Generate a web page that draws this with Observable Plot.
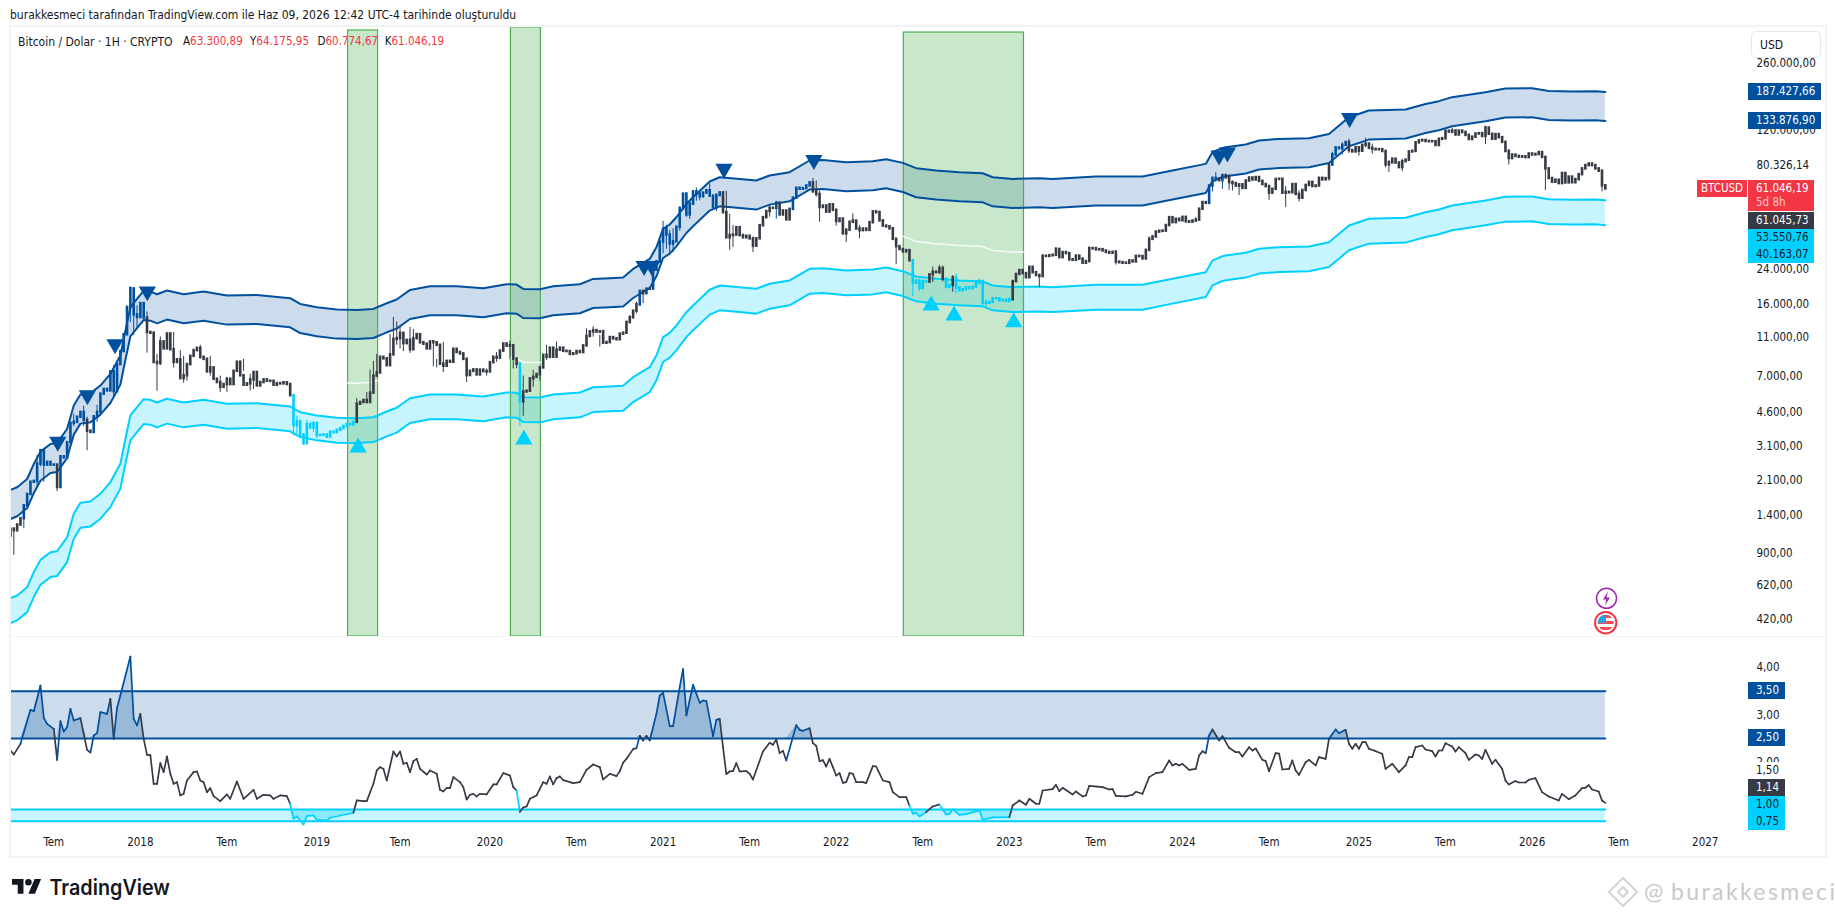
<!DOCTYPE html>
<html><head><meta charset="utf-8">
<script src="https://cdn.jsdelivr.net/npm/d3@7"></script>
<script src="https://cdn.jsdelivr.net/npm/@observablehq/plot@0.6"></script>
<style>
html,body{margin:0;padding:0;background:#fff;overflow:hidden}
#wrap{position:relative;width:1835px;height:917px;font-family:"DejaVu Sans Condensed","DejaVu Sans",sans-serif;font-stretch:condensed;color:#131722;font-size:12px}
#wrap>div.plot{position:absolute;left:0}
.t{position:absolute;white-space:nowrap;line-height:1}
.tag{position:absolute;left:1748px;height:17px;line-height:17px;padding-left:8px;box-sizing:border-box;white-space:nowrap;font-size:11.5px}
.frame{position:absolute;background:#f2f3f5}
svg{overflow:visible}
</style></head><body><div id="wrap"></div>
<script>
// ---- weekly closes, one list per calendar block (week 0 = 2017-04-03)
const firstOpen = 1100;
const close2017 = [1190,1170,1250,1345,1560,1780,2050,2070,2530,2950,2500,2580,2500,2500,1930,2750,2720,3240,4050,4100,4350,4600,4200,3700,3650,4370,4600,5680,6000,5900,7350,5850,8000,9300,11300,15500,19200,14200,13800];
const close2018 = [16200,13700,11600,11500,8200,8100,10400,9600,11400,9500,8200,8450,6800,7020,8000,8800,9400,9650,8700,8500,7350,7700,6750,6500,6150,6350,6750,6350,7400,8220,7030,6300,6400,6700,7300,6250,6500,6700,6600,6590,6300,6420,6400,6480,6350,5580,3950,4130,3530,3200,4000,3840];
const close2019 = [4050,3520,3530,3540,3460,3660,3640,3740,3810,3910,4000,3980,4100,5060,5160,5280,5160,5750,7000,7260,8700,8550,7900,8950,10700,10800,11480,10200,10580,9500,10800,11300,10300,10130,9600,10400,10300,10000,8050,7850,8300,8220,9550,9200,9050,8500,7050,7400,7520,7100,7500,7380];
const close2020 = [7350,8180,8700,8620,9350,10150,9900,9950,8530,8040,5200,5830,5880,6780,6900,7130,7700,8900,8700,9670,8720,9450,9670,9330,9300,9000,9070,9300,9200,9930,11080,11680,11850,11650,11700,10250,10320,10930,10770,10670,11380,11500,13030,13750,14840,15960,18650,18180,19150,19170,23850,26250];
const close2021 = [33000,38300,35800,32300,33100,39200,48600,57500,45200,51200,59000,57400,55800,58200,59800,56200,49100,56600,58300,46400,34700,35600,35800,39000,35600,34700,35300,34250,31500,34300,39900,43800,47000,48800,48800,51800,45200,47300,42700,48200,54900,61500,60900,61300,63200,65500,59000,57300,49300,50100,46700,50800,47700];
const close2022 = [41900,43100,36300,37900,41500,42100,38400,37700,38400,37800,41300,46800,46400,42200,39700,39400,38500,34100,31300,30300,29500,29900,26600,20550,21000,19300,20850,20800,22600,23300,23200,24300,21500,19550,19990,21800,19400,18800,19050,19440,19260,19570,20630,20920,16330,16280,16430,17100,17130,16740,16840,16620];
const close2023 = [16950,20880,22700,23740,22940,21860,24640,23160,22430,22160,28000,27970,28190,28330,30320,27590,29230,28900,26920,26750,28070,27100,25850,26340,30540,30620,30170,30240,29790,29280,29050,29300,26190,26020,25870,25830,26530,26250,27980,27930,27160,29990,34080,35040,37060,37390,37480,39970,43790,41370,43010,42270];
const close2024 = [43950,41730,41580,42120,42580,48290,52130,51730,63100,68950,68390,67200,71280,69360,65660,64940,63100,64000,61480,66940,69290,67750,69650,66640,64250,62770,58200,60800,68160,68250,58110,58710,58450,64220,57300,54860,59990,63570,65880,62820,63190,69000,67850,68770,80440,90600,97900,97280,101200,104500,95180,93750];
const close2025 = [98300,94500,101100,102600,97700,96500,96100,96200,94200,80700,82600,86100,82400,78200,83700,85200,93700,94300,104100,106500,107000,105700,105600,105500,101000,108400,109200,119000,117900,119400,114000,119300,117400,113500,108200,111100,115300,115700,112100,123500,115000,108600,114500,110500,104700,94200,86800,90400,89000,88200,88500,87800,91500];
const close2026 = [90500,91000,93000,88000,77000,68900,66000,67500,65000,73000,65500,70000,65600,68000,72000,77000,80000,81500,80000,77000,75000,63300,61046];
const closes = [...close2017,...close2018,...close2019,...close2020,...close2021,...close2022,...close2023,...close2024,...close2025,...close2026];

// ---- notable wicks
const wickWeek = [1,4,8,9,10,14,19,22,23,26,31,36,37,38,41,44,45,49,51,52,53,57,60,63,65,70,72,73,85,86,88,89,91,92,104,107,108,109,110,114,115,116,117,118,120,121,127,128,129,130,137,143,146,150,151,152,153,154,157,159,161,164,173,175,177,186,188,190,195,196,197,198,199,201,203,204,206,207,210,212,215,216,217,223,228,230,241,242,243,248,251,253,255,261,266,271,273,277,279,280,283,284,291,292,293,301,309,310,314,318,324,332,342,356,358,360,361,362,364,366,367,369,378,383,387,396,397,398,400,402,405,407,409,413,414,418,422,433,443,450,461,478,479];
const wickLow  = [880,1200,1950,2450,2050,1840,3900,3900,2950,4100,5500,13000,11200,12000,9130,5880,7900,7700,7800,6450,6600,8500,7000,5800,5800,7400,5900,6000,3500,3500,3150,3200,3650,3400,4100,5100,5500,6900,7000,8800,9900,10000,9600,9300,9100,10000,7800,7700,7900,7300,6500,7000,8200,8500,7600,7630,3900,4400,6150,6600,8400,8600,10500,11000,9800,12800,14400,16200,28000,28800,30400,28800,29200,37400,44000,43000,53000,53200,55400,47000,43800,30000,31100,29300,44000,43000,62300,55600,41500,39700,32900,41700,34300,42000,25400,17600,18600,20700,22700,20800,18500,18200,20000,15600,15500,17300,19500,24000,29800,26400,26400,25300,29900,41500,47700,50900,59000,66000,60700,60000,59600,56500,53500,49300,52500,66800,80200,89400,90500,92200,89200,98300,91200,78000,74000,74500,93000,115700,102000,80600,59900,59000,60774];
const wickHigh = [1210,1570,2800,3000,2980,2420,4500,4950,4350,5000,7900,19700,17500,15800,14700,9000,11000,11600,9400,8800,7700,10000,8800,7000,6900,8500,7150,6700,5600,4400,3600,4200,4100,4050,5400,5800,7500,8300,9000,11300,13800,13100,12300,11100,12300,12000,10400,8500,8800,10350,8000,7600,9200,10500,9150,8000,8000,7000,7500,7800,10000,10400,12100,12400,11200,14100,16500,18900,34800,41950,40100,37800,38500,49700,58300,52600,61800,60000,64800,57500,59500,45500,40000,35000,50600,52900,69000,67000,59500,47500,38000,45800,40000,47200,34200,26800,21500,24700,25200,25000,22400,22800,21500,21000,17000,21200,22600,28500,31000,28500,31400,30000,35100,43800,52800,64000,70000,73700,72000,72000,67000,64500,63500,62800,59800,81500,93300,99800,104000,108300,97200,109800,102500,95000,85000,86000,105000,123200,126200,96000,79000,68000,64176];

// ---- base line of the band indicator (the 1,00 level), read at irregular weeks
const baseWeek = [0,2,5,7,9,12,14,17,19,21,24,27,30,33,34,36,38,40,42,44,47,52,58,65,74,84,87,92,98,104,109,113,116,120,126,134,142,149,152,154,159,163,171,175,180,184,187,192,194,196,198,200,203,205,210,213,219,224,228,234,240,244,251,259,263,268,272,278,285,292,295,301,309,313,326,340,349,359,361,364,365,371,375,381,390,396,402,408,419,425,429,433,443,449,457,462,469,476,479];
const baseValue = [536,553,608,724,835,912,923,1085,1423,1616,1640,1793,2051,2537,3075,4438,4886,5359,5320,5158,5385,5158,5320,5081,5117,4925,4611,4438,4321,4300,4351,4649,4852,5422,5660,5660,5531,5792,5770,5484,5465,5660,5792,6157,6207,6258,6913,7761,8886,10985,11555,12575,14667,15855,19014,19975,19597,19227,20370,21168,24240,24400,23760,24030,24620,23580,22180,21590,21168,20920,19975,19597,19740,19597,20140,20140,21590,23310,26660,28050,28270,29180,30570,31130,31380,32960,40020,43230,43750,46660,48170,50450,53430,55770,55950,54250,53870,54100,53551];
const bandMultipliers = {cyanLow:0.75, cyanHigh:1, white:1.5, blueLow:2.5, blueHigh:3.5};

// ---- oscillator (price / base), read at the visible turning points
const oscWeek = [0,1,3,6,7,9,10,11,13,14,15,16,17,18,19,21,23,24,25,26,27,29,30,31,32,33,36,37,38,39,40,41,42,43,44,45,46,47,48,49,50,51,52,53,55,56,57,58,59,60,61,63,65,66,68,70,73,74,76,78,79,81,83,84,85,86,88,89,91,92,95,96,103,104,106,107,109,110,111,112,113,115,116,117,118,119,120,121,122,123,125,126,128,129,130,131,132,133,135,136,137,138,139,140,141,143,145,146,148,150,151,152,153,154,155,156,158,160,161,162,163,164,165,166,169,171,173,175,177,178,180,182,183,184,185,187,188,189,190,191,192,194,195,196,198,199,201,202,203,205,207,208,209,211,212,213,214,215,216,217,218,219,221,222,223,226,228,229,230,231,232,233,236,237,238,240,241,242,243,244,245,246,247,248,249,250,251,252,253,254,256,257,259,260,262,264,265,267,269,270,271,272,273,275,277,279,281,282,283,285,287,290,291,292,295,300,301,303,305,306,308,309,310,313,314,315,316,319,320,322,323,324,328,330,331,332,335,337,338,340,342,344,346,348,349,350,351,352,354,356,357,358,359,360,361,363,364,366,368,369,370,372,373,374,376,377,378,380,381,382,384,385,386,387,389,390,392,393,395,396,398,399,401,402,403,404,405,406,407,408,410,412,413,415,417,419,420,421,422,424,425,427,428,429,430,431,433,434,435,437,438,440,441,442,443,445,446,448,449,450,452,453,455,456,458,460,462,465,466,468,470,472,473,474,475,477,478,479];
const oscValue = [2.246,2.162,2.387,3.106,3.077,3.62,2.937,2.81,2.704,2.049,2.866,2.648,2.739,3.127,2.88,2.93,2.26,2.204,2.563,2.613,3.056,3.021,3.338,2.493,3.148,3.408,4.232,2.915,2.775,3.021,2.493,2.155,2.148,1.542,1.542,1.979,1.789,2.12,1.754,1.542,1.577,1.296,1.331,1.613,1.789,1.803,1.613,1.577,1.366,1.451,1.282,1.176,1.317,1.225,1.592,1.225,1.415,1.225,1.31,1.296,1.225,1.296,1.282,1.12,.803,.852,.683,.859,.873,.782,.768,.824,.93,1.19,1.176,1.176,1.542,1.824,1.894,1.859,1.613,2.225,2.12,2.225,1.965,1.986,1.789,2.021,2.07,1.859,1.739,1.824,1.754,1.415,1.38,1.458,1.451,1.683,1.577,1.472,1.211,1.31,1.331,1.275,1.331,1.317,1.528,1.528,1.768,1.718,1.472,1.401,.95,1.042,1.063,1.225,1.296,1.577,1.542,1.697,1.528,1.662,1.697,1.62,1.556,1.577,1.838,1.951,1.894,1.634,1.754,1.704,1.81,1.986,2.07,2.275,2.296,2.556,2.458,2.556,2.458,3.021,3.408,3.465,2.761,2.761,3.585,3.965,2.986,3.634,3.254,3.303,3.289,2.549,2.894,2.915,2.317,1.746,1.803,1.81,1.979,1.803,1.81,1.754,1.634,2.225,2.408,2.366,2.479,2.19,2.239,2.035,2.782,2.683,2.662,2.718,2.401,2.345,2.021,2.042,1.908,2.07,1.894,1.718,1.768,1.563,1.577,1.768,1.754,1.577,1.577,1.556,1.915,1.908,1.613,1.577,1.366,1.261,1.261,1.084,.908,.93,.852,.944,1.063,1.106,.894,.908,1.0,.887,.901,.958,.979,.782,.831,.838,1.084,1.19,1.099,1.225,1.12,1.12,1.401,1.43,1.521,1.387,1.458,1.317,1.38,1.275,1.296,1.5,1.472,1.423,1.43,1.289,1.275,1.31,1.373,1.331,1.683,1.768,1.789,2.035,1.93,1.965,1.93,1.965,1.838,1.859,2.141,2.232,2.19,2.563,2.69,2.458,2.549,2.303,2.211,2.211,2.12,2.317,2.246,2.289,2.049,2.021,1.81,2.19,2.183,1.845,1.859,2.035,1.824,1.732,2.0,2.049,1.93,2.106,2.07,2.493,2.69,2.613,2.683,2.387,2.282,2.387,2.282,2.423,2.423,2.282,2.232,2.176,1.859,1.965,1.789,1.93,2.106,2.106,2.317,2.352,2.268,2.232,2.12,2.246,2.246,2.401,2.331,2.225,2.317,2.19,2.049,2.162,2.141,2.07,2.261,1.965,2.049,1.859,1.613,1.528,1.599,1.57,1.57,1.627,1.662,1.366,1.275,1.19,1.331,1.218,1.296,1.451,1.458,1.514,1.423,1.38,1.19,1.14];
const oscUpper = [2.5,3.5], oscLower = [0.75,1];

// ---- signal markers
const sellWeek  = [14.2,23.1,31.4,41.1,190.3,192.6,214.3,241.3,363,365.5,402.2];
const sellPrice = [3198,5484,9880,18230,24480,24480,75400,83450,87900,90960,135660];
const buyWeek   = [104.4,154.2,276.5,283.4,301.3];
const buyPrice  = [3136,3440,16230,14450,13360];

// ---- highlighted zones
const zoneStart = [101.4,150.3,268.3], zoneEnd = [110.4,159.3,304.4], zoneTop = [382000,396000,373000], zoneBottom = [344,344,344];

// ---- axes
const priceTicks = [420,620,900,1400,2100,3100,4600,7000,11000,16000,24000,80326.14,120000,260000];
const oscTicks = [2,3,4];
const timeTicks = ["2017-07-03","2018-01-01","2018-07-02","2019-01-07","2019-07-01","2020-01-06","2020-07-06","2021-01-04","2021-07-05","2022-01-03","2022-07-04","2023-01-02","2023-07-03","2024-01-01","2024-07-01","2025-01-06","2025-07-07","2026-01-05","2026-07-06","2027-01-04"];
const timeLabels = ["Tem","2018","Tem","2019","Tem","2020","Tem","2021","Tem","2022","Tem","2023","Tem","2024","Tem","2025","Tem","2026","Tem","2027"];
const lastPrice = 61046.19, bandLast = [187427.66,133876.90,53550.76,40163.07];

// ---- colours
const BLUE="#00509e", CYAN="#00d0ff", DARK="#363a45", GREEN="#4caf50", RED="#f23645";
const FONT='"DejaVu Sans Condensed","DejaVu Sans",sans-serif';

const W0 = Date.UTC(2017,3,3), WK = 7*864e5;
const week = i => new Date(W0 + i*WK);
const xDomain = [week(0), week(522)];
const baseAt = d3.scaleLinear().domain(baseWeek).range(baseValue);
const tr = d3.formatLocale({decimal:",",thousands:".",grouping:[3]});
const fmt = tr.format(",.2f");
const fmt2 = tr.format(".2f");

const bands = baseWeek.map((w,i)=>{
  const b=baseValue[i];const m=bandMultipliers;
  return {date:week(w),cyanLow:b*m.cyanLow,cyanHigh:b*m.cyanHigh,white:b*m.white,blueLow:b*m.blueLow,blueHigh:b*m.blueHigh};
});
const zoneColor = (c,w)=>{const b=baseAt(w);return c>=b*bandMultipliers.blueLow?BLUE:c<b?CYAN:DARK;};
const candles = closes.map((c,i)=>{
  const open=i?closes[i-1]:firstOpen;
  return {date:week(i),open,close:c,color:zoneColor(c,i)};
});
const wicks = wickWeek.map((w,i)=>({date:week(w),low:wickLow[i],high:wickHigh[i],color:zoneColor(closes[w],w)}));
const zones = zoneStart.map((s,i)=>({x1:week(s),x2:week(zoneEnd[i]),y1:zoneBottom[i],y2:zoneTop[i]}));
const sells = sellWeek.map((w,i)=>({date:week(w),price:sellPrice[i]}));
const buys = buyWeek.map((w,i)=>({date:week(w),price:buyPrice[i]}));

const bandLine=(key,color)=>Plot.line(bands,{x:"date",y:key,stroke:color,strokeWidth:2,curve:"linear"});
const main = Plot.plot({
  width:1835,height:637,marginLeft:10,marginRight:87,marginTop:26,marginBottom:1,
  style:{background:"transparent",fontFamily:FONT,fontSize:"11.5px",color:"#131722",fontStretch:"condensed"},
  x:{type:"utc",domain:xDomain,axis:null},
  y:{type:"log",domain:[344,400000],axis:null},
  color:{type:"identity"},
  marks:[
    Plot.areaY(bands,{x:"date",y1:"blueLow",y2:"blueHigh",fill:BLUE,fillOpacity:.2}),
    Plot.areaY(bands,{x:"date",y1:"cyanLow",y2:"cyanHigh",fill:CYAN,fillOpacity:.22}),
    Plot.rect(zones,{x1:"x1",x2:"x2",y1:"y1",y2:"y2",fill:GREEN,fillOpacity:.3,stroke:GREEN,strokeWidth:1.2}),
    Plot.line(bands,{x:"date",y:"white",stroke:"#ffffff",strokeOpacity:.85,strokeWidth:1.5}),
    bandLine("blueHigh",BLUE),bandLine("blueLow",BLUE),bandLine("cyanHigh",CYAN),bandLine("cyanLow",CYAN),
    Plot.ruleX(wicks,{x:"date",y1:"low",y2:"high",stroke:"color",strokeWidth:1}),
    Plot.ruleX(candles,{x:"date",y1:"open",y2:"close",stroke:"color",strokeWidth:2.6,strokeLinecap:"square"}),
    Plot.dot(sells,{x:"date",y:"price",symbol:"triangle",rotate:180,r:6.4,fill:BLUE,dy:-2}),
    Plot.dot(buys,{x:"date",y:"price",symbol:"triangle",r:6.4,fill:CYAN,dy:2}),
    Plot.text(priceTicks,{y:d=>d,text:d=>fmt(d),frameAnchor:"right",dx:8,textAnchor:"start",fill:"#131722",fontSize:11.5})
  ]
});

const osc = oscWeek.map((w,i)=>({date:week(w),v:oscValue[i]}));
const segs = osc.slice(1).map((d,i)=>{
  const p=osc[i];
  return {x1:p.date,x2:d.date,y1:p.v,y2:d.v,color:(d.v>=oscUpper[0])?BLUE:(d.v<=oscLower[1])?CYAN:DARK};
});
const endDate = week(479);
const oscBand = [{x1:week(0),x2:endDate,y1:oscUpper[0],y2:oscUpper[1],c:BLUE,o:.2},{x1:week(0),x2:endDate,y1:oscLower[0],y2:oscLower[1],c:CYAN,o:.22}];
const oscLevels = [[oscUpper[0],BLUE],[oscUpper[1],BLUE],[oscLower[0],CYAN],[oscLower[1],CYAN]].flatMap(([v,c],k)=>[{date:week(0),v,c,k},{date:endDate,v,c,k}]);
const tickMap = new Map(timeTicks.map((t,i)=>[+new Date(t+"T00:00:00Z"),timeLabels[i]]));
const lower = Plot.plot({
  width:1835,height:220,marginLeft:10,marginRight:87,marginTop:0,marginBottom:27,
  style:{background:"transparent",fontFamily:FONT,fontSize:"11.5px",color:"#131722",fontStretch:"condensed"},
  x:{type:"utc",domain:xDomain,axis:null},
  y:{domain:[0.555,4.635],axis:null},
  color:{type:"identity"},
  marks:[
    Plot.rect(oscBand,{x1:"x1",x2:"x2",y1:"y1",y2:"y2",fill:"c",fillOpacity:"o"}),
    Plot.areaY(osc,{x:"date",y1:oscUpper[0],y2:d=>Math.max(d.v,oscUpper[0]),fill:BLUE,fillOpacity:.25}),
    Plot.areaY(osc,{x:"date",y1:oscLower[1],y2:d=>Math.min(d.v,oscLower[1]),fill:CYAN,fillOpacity:.3}),
    Plot.line(oscLevels,{x:"date",y:"v",z:"k",stroke:"c",strokeWidth:2}),
    Plot.link(segs,{x1:"x1",x2:"x2",y1:"y1",y2:"y2",stroke:"color",strokeWidth:1.7,strokeLinecap:"round"}),
    Plot.text(oscTicks,{y:d=>d,text:d=>fmt2(d),frameAnchor:"right",dx:8,textAnchor:"start",fill:"#131722",fontSize:11.5}),
    Plot.axisX({anchor:"bottom",ticks:timeTicks.map(t=>new Date(t+"T00:00:00Z")),tickSize:0,tickPadding:7,tickFormat:d=>tickMap.get(+d),label:null,fontSize:11.5})
  ]
});

const wrap = document.getElementById("wrap");
const add=(el,top)=>{const d=document.createElement("div");d.className="plot";d.style.top=top+"px";d.appendChild(el);wrap.appendChild(d);};
add(main,0);add(lower,637);

const html=(cls,css,txt)=>{const d=document.createElement("div");d.className=cls;d.style.cssText=css;if(txt!=null)d.textContent=txt;wrap.appendChild(d);return d;};
// frame
[[9,25,1818,2],[9,635.5,1818,1.5],[9,856,1818,2],[9,25,2,833],[1825,25,2,833]].forEach(([l,t,w,h])=>html("frame",`left:${l}px;top:${t}px;width:${w}px;height:${h}px`));
// header texts
html("t","left:10px;top:9px;font-size:12px","burakkesmeci tarafından TradingView.com ile Haz 09, 2026 12:42 UTC-4 tarihinde oluşturuldu");
html("t","left:18px;top:36px","Bitcoin / Dolar · 1H · CRYPTO");
[["A","63.300,89",183],["Y","64.175,95",250],["D","60.774,67",317.5],["K","61.046,19",384.7]].forEach(([k,v,x])=>{
  const d=html("t",`left:${x}px;top:36px;font-size:11.5px`);d.innerHTML=`${k}<span style="color:${RED}">${v}</span>`;
});
// USD button
html("t","left:1751px;top:30.5px;width:70px;height:27.5px;box-sizing:border-box;border:1px solid #e6e8ee;border-radius:5px;background:#fff;padding:7px 0 0 8px;font-size:12px","USD");

// value tags positioned through the scales
const yM=v=>main.scale("y").apply(v), yL=v=>lower.scale("y").apply(v)+637;
const tag=(top,w,bg,fg,txt)=>html("tag",`top:${top}px;width:${w}px;background:${bg};color:${fg}`,txt);
tag(yM(bandLast[0])-8.5,73,BLUE,"#fff",fmt(bandLast[0]));
tag(yM(bandLast[1])-8.5,73,BLUE,"#fff",fmt(bandLast[1]));
const ry=yM(lastPrice)-8;
html("tag",`top:${ry}px;left:1697px;width:50px;background:${RED};color:#fff;padding-left:4px`,"BTCUSD");
html("tag",`top:${ry}px;width:66px;height:31px;background:${RED};color:#fff`,fmt(lastPrice));
html("tag",`top:${ry+14}px;width:66px;color:#ffc4c9;background:transparent`,"5d 8h");
tag(212,66,DARK,"#fff","61.045,73");
tag(229,66,CYAN,"#131722",fmt(bandLast[2]));
tag(246,66,CYAN,"#131722",fmt(bandLast[3]));
// lower pane tags
html("tag",`top:762px;width:37px;background:#fff;color:#131722;padding-top:0`,"1,50");
tag(yL(3.5)-8.5,37,BLUE,"#fff","3,50");
tag(yL(2.5)-8.5,37,BLUE,"#fff","2,50");
tag(779,37,DARK,"#fff","1,14");
tag(796,37,CYAN,"#131722","1,00");
tag(813,37,CYAN,"#131722","0,75");

// event icons, logo, watermark
const svgOver=document.createElement("div");
svgOver.style.cssText="position:absolute;left:0;top:0;width:1835px;height:917px;pointer-events:none";
svgOver.innerHTML=`<svg width="1835" height="917" style="position:absolute;left:0;top:0">
<circle cx="1606.5" cy="598.3" r="10" fill="#fff" stroke="#9c27b0" stroke-width="1.5"/>
<path d="M1608 591.5l-5 8h3.5l-1.5 6 5-8h-3.5z" fill="#9c27b0"/>
<circle cx="1605.7" cy="622.7" r="10.7" fill="#fff" stroke="${RED}" stroke-width="2"/>
<clipPath id="fl"><circle cx="1605.7" cy="622.7" r="8"/></clipPath>
<g clip-path="url(#fl)"><rect x="1596" y="614" width="20" height="18" fill="#fff"/>
<rect x="1596" y="615" width="20" height="3" fill="${RED}" opacity=".9"/><rect x="1596" y="621" width="20" height="3" fill="${RED}" opacity=".9"/><rect x="1596" y="627" width="20" height="3" fill="${RED}" opacity=".9"/>
<rect x="1596" y="614" width="10" height="9" fill="#2f9fd8"/></g>
<g transform="translate(12,875.7) scale(.82)" fill="#131722"><path d="M14 22H7V11H0V4h14v18zM28 22h-8l7.5-18h8L28 22z"/><circle cx="20" cy="8" r="4"/></g>
<text x="49.4" y="894.5" font-family="Inter,Roboto,sans-serif" font-weight="600" font-size="21" textLength="120.6" lengthAdjust="spacingAndGlyphs" fill="#131722">TradingView</text>
<g fill="none" stroke="#d2d2d2" stroke-width="2" transform="translate(1623,892) rotate(45)"><rect x="-10" y="-10" width="20" height="20"/><rect x="-3.5" y="-3.5" width="7" height="7"/></g>
<text x="1644" y="900" font-family="Lato,sans-serif" font-size="23" fill="#c8c8c8">@</text>
<text x="1671" y="900" font-family="Lato,sans-serif" font-size="23" textLength="164" fill="#c8c8c8">burakkesmeci</text>
</svg>`;
wrap.appendChild(svgOver);
</script></body></html>
